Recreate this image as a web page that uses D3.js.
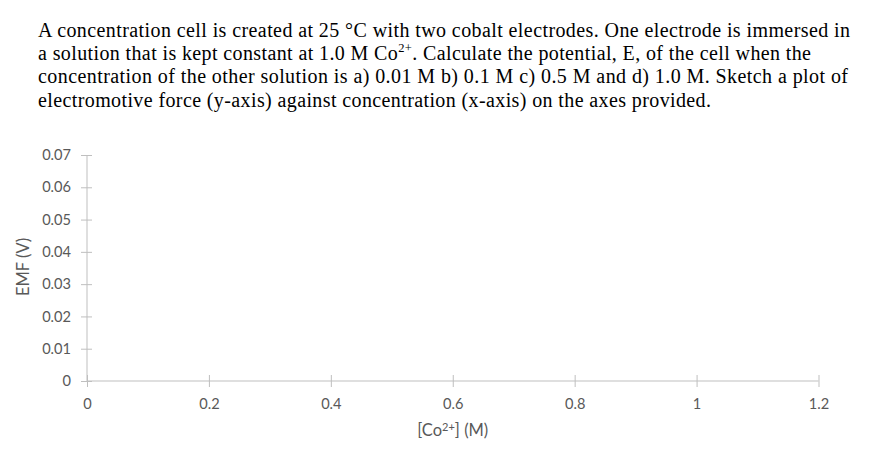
<!DOCTYPE html>
<html>
<head>
<meta charset="utf-8">
<script src="https://cdn.jsdelivr.net/npm/d3@7"></script>
<style>
body{margin:0;background:#fff;}
svg{display:block;}
</style>
</head>
<body>
<svg id="chart" width="876" height="464"></svg>
<script>
// Data (empty plot — axes only)
const xTicks = [0, 0.2, 0.4, 0.6, 0.8, 1, 1.2];
const yTicks = [0, 0.01, 0.02, 0.03, 0.04, 0.05, 0.06, 0.07];
const xDomain = [0, 1.2];
const yDomain = [0, 0.07];
const questionLines = [
  [{t:"A concentration cell is created at 25 °C with two cobalt electrodes. One electrode is immersed in"}],
  [{t:"a solution that is kept constant at 1.0 M Co"},{t:"2+",sup:true},{t:". Calculate the potential, E, of the cell when the"}],
  [{t:"concentration of the other solution is a) 0.01 M b) 0.1 M c) 0.5 M and d) 1.0 M. Sketch a plot of"}],
  [{t:"electromotive force (y-axis) against concentration (x-axis) on the axes provided."}]
];

(function(){
const svg = d3.select("#chart");
const mLeft = 87, mRight = 818.5, mTop = 155, mBottom = 381;
const x = d3.scaleLinear().domain(xDomain).range([mLeft, mRight]);
const y = d3.scaleLinear().domain(yDomain).range([mBottom, mTop]);

// Question text (layout: rendered line widths)
const lineWidths = [812, 773, 810, 673];
const q = svg.append("g").attr("font-family","'Liberation Serif','Times New Roman',serif")
  .attr("font-size","20px").attr("fill","#000");
questionLines.forEach((line,i)=>{
  const t = q.append("text").attr("x",38).attr("y",36.7+i*23.3)
    .attr("textLength", lineWidths[i]).attr("lengthAdjust","spacing");
  let afterSup = false;
  line.forEach(seg=>{
    const s = t.append("tspan").text(seg.t);
    if(seg.sup){ s.attr("font-size","12.5px").attr("dy","-8"); afterSup = true; }
    else if(afterSup){ s.attr("dy","8"); afterSup = false; }
  });
});

const axisColor = "#bfbfbf";
const labelColor = "#595959";
const font = "Lato, 'Open Sans', sans-serif";

// Y axis
const yAxis = d3.axisLeft(y).tickValues(yTicks).tickSize(0).tickPadding(16)
  .tickFormat(d => d === 0 ? "0" : d3.format(".2f")(d));
const gy = svg.append("g").attr("transform",`translate(${mLeft},0)`).call(yAxis);
gy.select(".domain").attr("stroke",axisColor).attr("d",`M0,${mBottom}V${mTop}`);
gy.selectAll(".tick").append("line").attr("x1",-6).attr("x2",5).attr("stroke",axisColor);
gy.selectAll(".tick text").attr("font-family",font).attr("font-size","14.6px").attr("fill",labelColor);

// X axis
const xAxis = d3.axisBottom(x).tickValues(xTicks).tickSize(0).tickPadding(18)
  .tickFormat(d => String(d));
const gx = svg.append("g").attr("transform",`translate(0,${mBottom})`).call(xAxis);
gx.select(".domain").attr("stroke",axisColor).attr("d",`M${mLeft},0H${mRight}`);
gx.selectAll(".tick").append("line").attr("y1",-6).attr("y2",6).attr("stroke",axisColor);
gx.selectAll(".tick text").attr("font-family",font).attr("font-size","14.6px").attr("fill",labelColor);

// Axis titles
const xt = svg.append("text").attr("x",(mLeft+mRight)/2).attr("y",436).attr("text-anchor","middle")
  .attr("font-family",font).attr("font-size","16.5px").attr("fill",labelColor);
xt.append("tspan").text("[Co");
xt.append("tspan").text("2+").attr("font-size","11px").attr("dy","-5");
xt.append("tspan").text("] (M)").attr("dy","5");

svg.append("text").attr("transform",`translate(29,${(mTop+mBottom)/2 - 1}) rotate(-90)`)
  .attr("text-anchor","middle").attr("font-family",font).attr("font-size","16.5px")
  .attr("fill",labelColor).text("EMF (V)");
})();
</script>
</body>
</html>
